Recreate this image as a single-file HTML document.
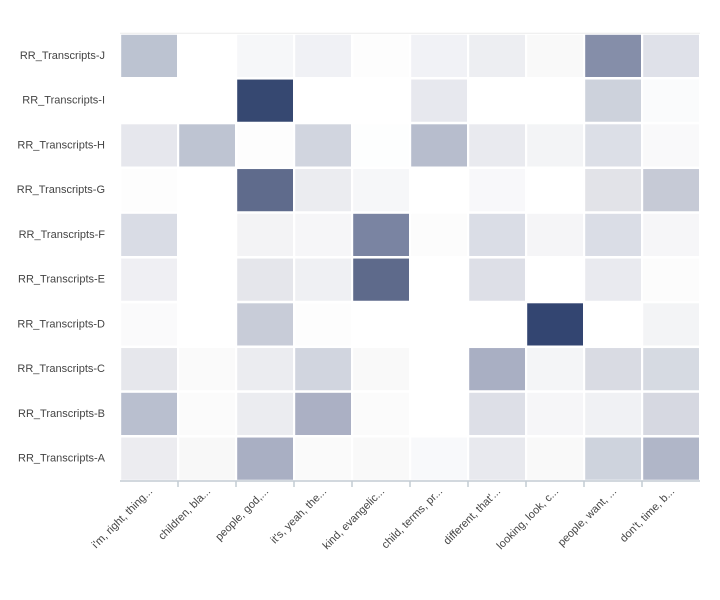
<!DOCTYPE html>
<html><head><meta charset="utf-8"><style>
html,body{margin:0;padding:0;background:#fff;}
svg{display:block;font-family:"Liberation Sans",Arial,sans-serif;}
</style></head><body>
<svg width="720" height="600" viewBox="0 0 720 600" xmlns="http://www.w3.org/2000/svg">
<rect width="720" height="600" fill="#fff"/>
<line x1="120" y1="33.3" x2="700" y2="33.3" stroke="#ebebeb" stroke-width="1"/>
<g id="cells"></g>
<line x1="120" y1="481" x2="700" y2="481" stroke="#c3ccd3" stroke-width="1.5"/>
<g stroke="#c3ccd3" stroke-width="1.5">
<line x1="178" y1="481" x2="178" y2="487"/>
<line x1="236" y1="481" x2="236" y2="487"/>
<line x1="294" y1="481" x2="294" y2="487"/>
<line x1="352" y1="481" x2="352" y2="487"/>
<line x1="410" y1="481" x2="410" y2="487"/>
<line x1="468" y1="481" x2="468" y2="487"/>
<line x1="526" y1="481" x2="526" y2="487"/>
<line x1="584" y1="481" x2="584" y2="487"/>
<line x1="642" y1="481" x2="642" y2="487"/>
</g>
<g font-size="11" fill="#444" text-anchor="end">
<text x="105" y="58.9">RR_Transcripts-J</text>
<text x="105" y="103.6">RR_Transcripts-I</text>
<text x="105" y="148.4">RR_Transcripts-H</text>
<text x="105" y="193.1">RR_Transcripts-G</text>
<text x="105" y="237.9">RR_Transcripts-F</text>
<text x="105" y="282.6">RR_Transcripts-E</text>
<text x="105" y="327.4">RR_Transcripts-D</text>
<text x="105" y="372.1">RR_Transcripts-C</text>
<text x="105" y="416.9">RR_Transcripts-B</text>
<text x="105" y="461.6">RR_Transcripts-A</text>
</g>
<g font-size="11" fill="#444" text-anchor="end">
<text transform="translate(153,492) rotate(-45)">i'm, right, thing...</text>
<text transform="translate(211,492) rotate(-45)">children, bla...</text>
<text transform="translate(269,492) rotate(-45)">people, god,...</text>
<text transform="translate(327,492) rotate(-45)">it's, yeah, the...</text>
<text transform="translate(385,492) rotate(-45)">kind, evangelic...</text>
<text transform="translate(443,492) rotate(-45)">child, terms, pr...</text>
<text transform="translate(501,492) rotate(-45)">different, that'...</text>
<text transform="translate(559,492) rotate(-45)">looking, look, c...</text>
<text transform="translate(617,492) rotate(-45)">people, want, ...</text>
<text transform="translate(675,492) rotate(-45)">don't, time, b...</text>
</g>
<!-- cells -->
<g>
<!-- J -->
<rect x="121.2" y="34.8" width="55.8" height="42.2" fill="#bcc3d1"/>
<rect x="237.2" y="34.8" width="55.8" height="42.2" fill="#f6f7f9"/>
<rect x="295.2" y="34.8" width="55.8" height="42.2" fill="#f0f1f5"/>
<rect x="353.2" y="34.8" width="55.8" height="42.2" fill="#fdfdfd"/>
<rect x="411.2" y="34.8" width="55.8" height="42.2" fill="#f1f2f6"/>
<rect x="469.2" y="34.8" width="55.8" height="42.2" fill="#edeef2"/>
<rect x="527.2" y="34.8" width="55.8" height="42.2" fill="#f9f9f9"/>
<rect x="585.2" y="34.8" width="55.8" height="42.2" fill="#858ea9"/>
<rect x="643.2" y="34.8" width="55.8" height="42.2" fill="#dfe1e9"/>
<!-- I -->
<rect x="237.2" y="79.55" width="55.8" height="42.2" fill="#364871"/>
<rect x="411.2" y="79.55" width="55.8" height="42.2" fill="#e7e8ee"/>
<rect x="585.2" y="79.55" width="55.8" height="42.2" fill="#cdd2dc"/>
<rect x="643.2" y="79.55" width="55.8" height="42.2" fill="#fafbfc"/>
<!-- H -->
<rect x="121.2" y="124.3" width="55.8" height="42.2" fill="#e6e7ed"/>
<rect x="179.2" y="124.3" width="55.8" height="42.2" fill="#bec4d2"/>
<rect x="237.2" y="124.3" width="55.8" height="42.2" fill="#fdfdfd"/>
<rect x="295.2" y="124.3" width="55.8" height="42.2" fill="#d1d5df"/>
<rect x="353.2" y="124.3" width="55.8" height="42.2" fill="#fdfefe"/>
<rect x="411.2" y="124.3" width="55.8" height="42.2" fill="#b7bdcd"/>
<rect x="469.2" y="124.3" width="55.8" height="42.2" fill="#e9eaef"/>
<rect x="527.2" y="124.3" width="55.8" height="42.2" fill="#f3f4f6"/>
<rect x="585.2" y="124.3" width="55.8" height="42.2" fill="#dcdfe7"/>
<rect x="643.2" y="124.3" width="55.8" height="42.2" fill="#f9f9fa"/>
<!-- G -->
<rect x="121.2" y="169.05" width="55.8" height="42.2" fill="#fdfdfd"/>
<rect x="237.2" y="169.05" width="55.8" height="42.2" fill="#5f6b8c"/>
<rect x="295.2" y="169.05" width="55.8" height="42.2" fill="#ebecf0"/>
<rect x="353.2" y="169.05" width="55.8" height="42.2" fill="#f6f7f9"/>
<rect x="469.2" y="169.05" width="55.8" height="42.2" fill="#f8f8fa"/>
<rect x="585.2" y="169.05" width="55.8" height="42.2" fill="#e2e3e8"/>
<rect x="643.2" y="169.05" width="55.8" height="42.2" fill="#c6cad6"/>
<!-- F -->
<rect x="121.2" y="213.8" width="55.8" height="42.2" fill="#d9dce5"/>
<rect x="237.2" y="213.8" width="55.8" height="42.2" fill="#f3f3f5"/>
<rect x="295.2" y="213.8" width="55.8" height="42.2" fill="#f6f6f8"/>
<rect x="353.2" y="213.8" width="55.8" height="42.2" fill="#7a84a2"/>
<rect x="411.2" y="213.8" width="55.8" height="42.2" fill="#fcfcfc"/>
<rect x="469.2" y="213.8" width="55.8" height="42.2" fill="#dadde6"/>
<rect x="527.2" y="213.8" width="55.8" height="42.2" fill="#f5f5f7"/>
<rect x="585.2" y="213.8" width="55.8" height="42.2" fill="#dadde6"/>
<rect x="643.2" y="213.8" width="55.8" height="42.2" fill="#f6f6f8"/>
<!-- E -->
<rect x="121.2" y="258.55" width="55.8" height="42.2" fill="#efeff3"/>
<rect x="237.2" y="258.55" width="55.8" height="42.2" fill="#e5e6eb"/>
<rect x="295.2" y="258.55" width="55.8" height="42.2" fill="#eff0f3"/>
<rect x="353.2" y="258.55" width="55.8" height="42.2" fill="#5e6a8b"/>
<rect x="469.2" y="258.55" width="55.8" height="42.2" fill="#dddfe7"/>
<rect x="585.2" y="258.55" width="55.8" height="42.2" fill="#e9eaef"/>
<rect x="643.2" y="258.55" width="55.8" height="42.2" fill="#fcfcfc"/>
<!-- D -->
<rect x="121.2" y="303.3" width="55.8" height="42.2" fill="#fafafb"/>
<rect x="237.2" y="303.3" width="55.8" height="42.2" fill="#c8ccd8"/>
<rect x="295.2" y="303.3" width="55.8" height="42.2" fill="#fdfdfd"/>
<rect x="527.2" y="303.3" width="55.8" height="42.2" fill="#334571"/>
<rect x="643.2" y="303.3" width="55.8" height="42.2" fill="#f3f4f6"/>
<!-- C -->
<rect x="121.2" y="348.05" width="55.8" height="42.2" fill="#e6e7ec"/>
<rect x="179.2" y="348.05" width="55.8" height="42.2" fill="#fafafa"/>
<rect x="237.2" y="348.05" width="55.8" height="42.2" fill="#ebecf0"/>
<rect x="295.2" y="348.05" width="55.8" height="42.2" fill="#d1d5df"/>
<rect x="353.2" y="348.05" width="55.8" height="42.2" fill="#f9f9f9"/>
<rect x="469.2" y="348.05" width="55.8" height="42.2" fill="#a9afc3"/>
<rect x="527.2" y="348.05" width="55.8" height="42.2" fill="#f4f5f7"/>
<rect x="585.2" y="348.05" width="55.8" height="42.2" fill="#d9dbe3"/>
<rect x="643.2" y="348.05" width="55.8" height="42.2" fill="#d6dae2"/>
<!-- B -->
<rect x="121.2" y="392.8" width="55.8" height="42.2" fill="#b9bfcf"/>
<rect x="179.2" y="392.8" width="55.8" height="42.2" fill="#fbfbfb"/>
<rect x="237.2" y="392.8" width="55.8" height="42.2" fill="#ebecf0"/>
<rect x="295.2" y="392.8" width="55.8" height="42.2" fill="#abb0c4"/>
<rect x="353.2" y="392.8" width="55.8" height="42.2" fill="#fbfbfb"/>
<rect x="469.2" y="392.8" width="55.8" height="42.2" fill="#dddfe7"/>
<rect x="527.2" y="392.8" width="55.8" height="42.2" fill="#f6f6f8"/>
<rect x="585.2" y="392.8" width="55.8" height="42.2" fill="#f0f1f4"/>
<rect x="643.2" y="392.8" width="55.8" height="42.2" fill="#d6d8e1"/>
<!-- A -->
<rect x="121.2" y="437.55" width="55.8" height="42.2" fill="#ececf0"/>
<rect x="179.2" y="437.55" width="55.8" height="42.2" fill="#f8f8f8"/>
<rect x="237.2" y="437.55" width="55.8" height="42.2" fill="#a9afc3"/>
<rect x="295.2" y="437.55" width="55.8" height="42.2" fill="#fafafa"/>
<rect x="353.2" y="437.55" width="55.8" height="42.2" fill="#f9f9f9"/>
<rect x="411.2" y="437.55" width="55.8" height="42.2" fill="#f8f9fb"/>
<rect x="469.2" y="437.55" width="55.8" height="42.2" fill="#e8e9ee"/>
<rect x="527.2" y="437.55" width="55.8" height="42.2" fill="#f9f9f9"/>
<rect x="585.2" y="437.55" width="55.8" height="42.2" fill="#ced3dd"/>
<rect x="643.2" y="437.55" width="55.8" height="42.2" fill="#b0b6c8"/>
</g>
</svg>
</body></html>
